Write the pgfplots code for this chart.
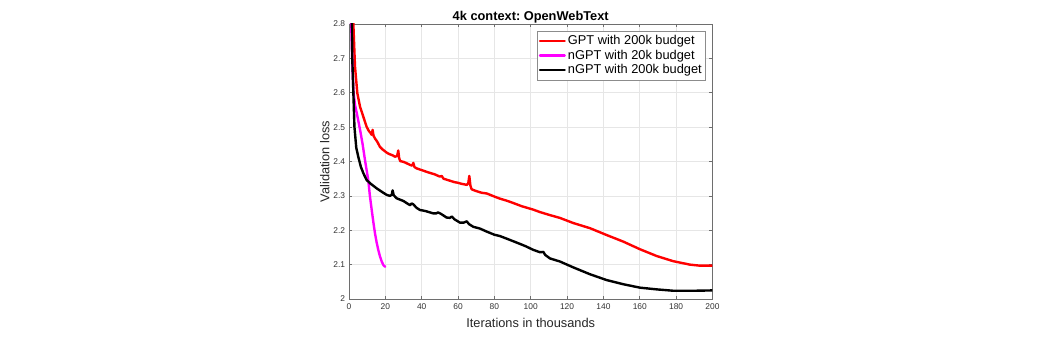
\documentclass[border=0pt]{standalone}
\usepackage{pgfplots}
\pgfplotsset{compat=1.18}
\usepackage{fontspec}
\setmainfont{Liberation Sans}
\frenchspacing
\definecolor{gridgray}{RGB}{230,230,230}
\definecolor{axgray}{RGB}{110,110,110}
\definecolor{mag}{RGB}{255,0,255}
\begin{document}
\begin{tikzpicture}
\path[use as bounding box] (-261.75pt,-42.75pt) rectangle (516.75pt,224.25pt);
\begin{axis}[
  at={(0pt,0pt)}, anchor=south west,
  scale only axis, width=272.6pt, height=206.25pt,
  xmin=0, xmax=200, ymin=2, ymax=2.8,
  xtick={0,20,...,200},
  ytick={2,2.1,2.2,2.3,2.4,2.5,2.6,2.7,2.8},
  yticklabels={2,2.1,2.2,2.3,2.4,2.5,2.6,2.7,2.8},
  grid=major,
  major grid style={gridgray, line width=0.5pt},
  axis line style={axgray, line width=0.6pt},
  tick style={axgray, line width=0.5pt},
  tick align=inside,
  major tick length=2.6pt,
  ticklabel style={font=\fontsize{6.3}{7}\selectfont, text=black!80},
  /pgf/number format/assume math mode=true,
  xticklabel style={yshift=0.3pt},
  yticklabel style={xshift=0.6pt},
  title={4k context: OpenWebText},
  title style={anchor=base, yshift=-3.5pt, font=\bfseries\fontsize{9.6}{11}\selectfont},
  xlabel={Iterations in thousands},
  xlabel style={at={(axis description cs:0.5,0)}, anchor=base, yshift=-21.6pt, font=\fontsize{9.6}{11}\selectfont, text=black!85},
  ylabel={Validation loss},
  ylabel style={at={(axis description cs:0,0.5)}, anchor=base, yshift=14.8pt, font=\fontsize{9.6}{11}\selectfont, text=black!85},
  legend style={at={(0.981,0.975)}, anchor=north east, draw=black!45, line width=0.5pt,
    font=\fontsize{9.6}{11}\selectfont, inner xsep=1pt, inner ysep=1.6pt, row sep=-0.8pt,
    nodes={inner sep=1.6pt}},
  legend cell align=left,
  legend image code/.code={\draw[#1, line width=1.8pt] (0pt,0pt) -- (18.5pt,0pt);},
  every axis plot/.append style={line join=round, line cap=round},
  clip=true,
]
\addplot[red, line width=1.8pt] coordinates {
(1.8,2.95) (2.4,2.8) (3.3,2.676) (4.6,2.598) (6.1,2.559) (7.9,2.530) (9.7,2.501)
(11,2.488) (11.6,2.485) (12.4,2.478) (13,2.492) (13.5,2.475) (14.3,2.467) (15.5,2.458)
(17,2.443) (18.5,2.435) (20.7,2.426) (22,2.422) (24,2.418) (25.3,2.414) (26.5,2.416)
(27.1,2.432) (27.6,2.41) (28.2,2.401) (30,2.399) (31.7,2.395) (33.6,2.390) (34.8,2.388)
(35.4,2.396) (36,2.384) (37.2,2.380) (40,2.375) (42.7,2.370) (45,2.366) (47,2.363)
(50,2.356) (51,2.358) (52,2.350) (55,2.345) (58,2.340) (60,2.338) (62,2.335)
(64.8,2.332) (65.6,2.336) (66.2,2.358) (66.8,2.330) (67.5,2.319) (70,2.314) (73,2.309)
(75.8,2.307) (80,2.298) (83,2.292) (86.8,2.286) (90,2.280) (95,2.270) (101.4,2.260)
(105,2.253) (110.6,2.244) (116,2.236) (123.4,2.221) (132.6,2.206) (141.8,2.186)
(150.9,2.167) (160,2.145) (169.3,2.125) (178.4,2.110) (187.6,2.100) (193,2.097) (200,2.097)
};
\addlegendentry{GPT with 200k budget}
\addplot[mag, line width=1.8pt] coordinates {
(0.6,2.95) (1.2,2.8) (2,2.66) (2.5,2.60) (3.3,2.565) (4.5,2.535) (6.1,2.492) (7.5,2.45)
(8.8,2.404) (10,2.365) (10.6,2.346) (11.5,2.300) (12.5,2.259) (13.5,2.220) (14.3,2.191)
(15.2,2.165) (16.1,2.143) (17,2.125) (18,2.109) (19,2.098) (19.8,2.094) (20,2.095)
};
\addlegendentry{nGPT with 20k budget}
\addplot[black, line width=1.8pt] coordinates {
(1.2,2.95) (1.6,2.8) (1.8,2.7) (2.4,2.6) (3,2.5) (3.3,2.482) (4,2.44) (5.1,2.414)
(6.5,2.385) (7.9,2.366) (9.7,2.346) (12,2.335) (15.2,2.322) (18,2.312) (20.7,2.303)
(22.5,2.300) (23.5,2.303) (24,2.316) (24.6,2.302) (26.2,2.293) (30,2.285) (32,2.278)
(33.6,2.273) (34.5,2.278) (35.5,2.275) (37,2.266) (39,2.259) (42,2.256) (46.4,2.249)
(48,2.249) (49,2.252) (50.5,2.248) (53.7,2.237) (55.5,2.236) (56.6,2.240) (58,2.232)
(61.1,2.222) (63,2.222) (64.8,2.226) (66,2.218) (68.4,2.210) (72,2.205) (75.8,2.196)
(80,2.187) (83.1,2.183) (88,2.173) (92.3,2.164) (97,2.154) (101.4,2.143) (105.1,2.136)
(106.9,2.137) (108,2.128) (110.6,2.118) (116.1,2.109) (123.4,2.092) (132.6,2.072)
(141.8,2.055) (150.9,2.043) (160.1,2.033) (169.3,2.028) (178.4,2.024) (190,2.024) (200,2.025)
};
\addlegendentry{nGPT with 200k budget}
\end{axis}
\end{tikzpicture}
\end{document}
